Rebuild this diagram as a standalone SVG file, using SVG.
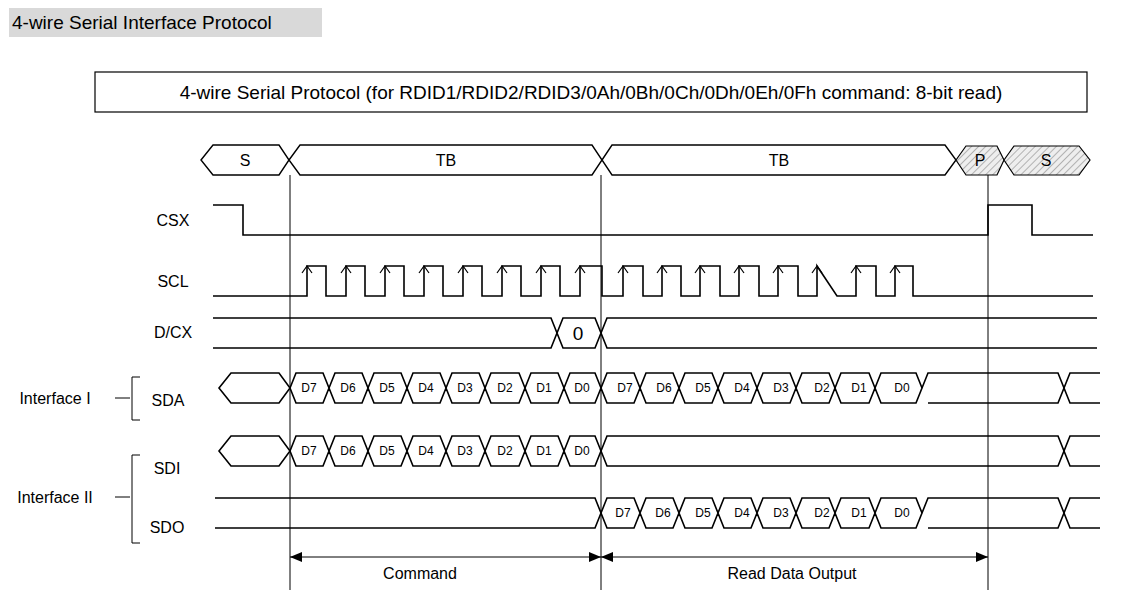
<svg xmlns="http://www.w3.org/2000/svg" width="1139" height="608" viewBox="0 0 1139 608">
<style>
text{font-family:"Liberation Sans",Arial,sans-serif;fill:#000}
.w{fill:none;stroke:#000;stroke-width:1.6}
.t{fill:none;stroke:#000;stroke-width:1}
.h{fill:#fff;stroke:#000;stroke-width:1.4}
.lab{font-size:16px;text-anchor:middle}
.d{font-size:12px;text-anchor:middle}
</style>
<defs>
<pattern id="hatch" width="5" height="5" patternUnits="userSpaceOnUse" patternTransform="rotate(45)">
<rect width="5" height="5" fill="#eee"/><line x1="0" y1="0" x2="0" y2="5" stroke="#777" stroke-width="1"/>
</pattern>
<marker id="ah" markerWidth="12" markerHeight="10" refX="12" refY="5" orient="auto-start-reverse" markerUnits="userSpaceOnUse"><path d="M0,0 L12,5 L0,10 z" fill="#000"/></marker>
<marker id="up" markerWidth="10" markerHeight="8" refX="5" refY="0" orient="0" markerUnits="userSpaceOnUse"><path d="M0,7 L5,0 L10,7" fill="none" stroke="#000" stroke-width="1.2"/></marker>
</defs>
<rect width="1139" height="608" fill="#fff"/>
<rect x="9" y="8" width="313" height="29" fill="#d9d9d9"/>
<text x="12" y="29" font-size="19">4-wire Serial Interface Protocol</text>
<g id="header"><rect x="95" y="72" width="992" height="40" fill="#fff" stroke="#000" stroke-width="1.2"/>
<text x="591" y="99" font-size="19" text-anchor="middle">4-wire Serial Protocol (for RDID1/RDID2/RDID3/0Ah/0Bh/0Ch/0Dh/0Eh/0Fh command: 8-bit read)</text></g>
<g id="phases">
<polygon class="h" points="201,160 213,145 279,145 289,160 279,175 213,175"/><text class="lab" x="245" y="166">S</text>
<polygon class="h" points="289,160 300,145 592,145 602,160 592,175 300,175"/><text class="lab" x="446" y="166">TB</text>
<polygon class="h" points="602,160 612,145 945,145 956,160 945,175 612,175"/><text class="lab" x="779" y="166">TB</text>
<polygon points="956,160 966,146 997,146 1004,160 997,175 966,175" fill="url(#hatch)" stroke="#000" stroke-width="1.2"/><text class="lab" x="980" y="166">P</text>
<polygon points="1004,160 1014,146 1079,146 1090,160 1079,175 1014,175" fill="url(#hatch)" stroke="#000" stroke-width="1.2"/><text class="lab" x="1046" y="166">S</text>
</g>
<g id="markers" class="t"><line x1="290" y1="175" x2="290" y2="590"/><line x1="601" y1="175" x2="601" y2="590"/><line x1="988" y1="175" x2="988" y2="590"/></g>
<g id="labels" class="lab">
<text x="173" y="226">CSX</text><text x="173" y="287">SCL</text><text x="173" y="338">D/CX</text>
<text x="168" y="406">SDA</text><text x="167" y="474">SDI</text><text x="167" y="533">SDO</text>
<text x="55" y="404">Interface I</text><text x="55" y="503">Interface II</text>
</g>
<g id="brackets" class="t">
<line x1="115" y1="398" x2="130" y2="398"/><polyline points="140,377 132,377 132,420 140,420"/>
<line x1="115" y1="497" x2="130" y2="497"/><polyline points="140,455 132,455 132,543 140,543"/>
</g>
<g id="csx"><polyline class="w" points="213,205 243,205 243,235 988,235 988,205 1032,205 1032,235 1093,235"/></g>
<g id="scl">
<polyline class="w" points="213,296 307,296 307,266 326,266 326,296 346,296 346,266 365,266 365,296 385,296 385,266 404,266 404,296 424,296 424,266 443,266 443,296 463,296 463,266 482,266 482,296 502,296 502,266 521,266 521,296 541,296 541,266 560,266 560,296 580,296 580,266 602,266 602,296 623,296 623,266 643,266 643,296 662,296 662,266 681,266 681,296 700,296 700,266 720,266 720,296 739,296 739,266 759,266 759,296 778,296 778,266 798,266 798,296 817,296 817,266 837,296 837,296 856,296 856,266 876,266 876,296 895,296 895,266 913,266 913,296 1093,296"/>
<g fill="none" stroke="#000" stroke-width="1.2">
<path d="M302,273 L307,266 L312,273 M341,273 L346,266 L351,273 M380,273 L385,266 L390,273 M419,273 L424,266 L429,273 M458,273 L463,266 L468,273 M497,273 L502,266 L507,273 M536,273 L541,266 L546,273 M575,273 L580,266 L585,273 M618,273 L623,266 L628,273 M657,273 L662,266 L667,273 M695,273 L700,266 L705,273 M734,273 L739,266 L744,273 M773,273 L778,266 L783,273 M812,273 L817,266 L822,273 M851,273 L856,266 L861,273 M890,273 L895,266 L900,273"/></g>
</g>
<g id="dcx" class="w">
<polyline points="213,318 551,318 557,333 551,348 213,348"/>
<polyline points="1097,318 607,318 601,333 607,348 1097,348"/>
<polygon points="557,333 563,318 595,318 601,333 595,348 563,348" fill="#fff"/>
<text x="578" y="340" font-size="19" text-anchor="middle" stroke="none">0</text>
</g>
<g id="sda" class="w">
<polygon points="219,388 231,373 279,373 290,388 279,403 231,403" fill="#fff"/>
<path d="M290,388 l6,-15 h27 l6,15 l-6,15 h-27 z M329,388 l6,-15 h27 l6,15 l-6,15 h-27 z M368,388 l6,-15 h27 l6,15 l-6,15 h-27 z M407,388 l6,-15 h27 l6,15 l-6,15 h-27 z M446,388 l6,-15 h27 l6,15 l-6,15 h-27 z M485,388 l6,-15 h28 l6,15 l-6,15 h-28 z M525,388 l6,-15 h27 l6,15 l-6,15 h-27 z M564,388 l6,-15 h25 l6,15 l-6,15 h-25 z M601,388 l6,-15 h27 l6,15 l-6,15 h-27 z M640,388 l6,-15 h27 l6,15 l-6,15 h-27 z M679,388 l6,-15 h27 l6,15 l-6,15 h-27 z M718,388 l6,-15 h27 l6,15 l-6,15 h-27 z M757,388 l6,-15 h27 l6,15 l-6,15 h-27 z M796,388 l6,-15 h27 l6,15 l-6,15 h-27 z M835,388 l6,-15 h28 l6,15 l-6,15 h-28 z M875,388 l6,-15 h35 l6,15 l-6,15 h-35 z"/>
<polyline points="922,388 928,373 1058,373 1064,388 1058,403 928,403"/>
<polyline points="1100,373 1070,373 1064,388 1070,403 1100,403"/>
</g>
<g id="sdi" class="w">
<polygon points="219,451 231,436 279,436 290,451 279,466 231,466" fill="#fff"/>
<path d="M290,451 l6,-15 h27 l6,15 l-6,15 h-27 z M329,451 l6,-15 h27 l6,15 l-6,15 h-27 z M368,451 l6,-15 h27 l6,15 l-6,15 h-27 z M407,451 l6,-15 h27 l6,15 l-6,15 h-27 z M446,451 l6,-15 h27 l6,15 l-6,15 h-27 z M485,451 l6,-15 h28 l6,15 l-6,15 h-28 z M525,451 l6,-15 h27 l6,15 l-6,15 h-27 z M564,451 l6,-15 h25 l6,15 l-6,15 h-25 z"/>
<polyline points="601,451 607,436 1058,436 1064,451 1058,466 607,466 601,451"/>
<polyline points="1100,436 1070,436 1064,451 1070,466 1100,466"/>
</g>
<g id="sdo" class="w">
<polyline points="215,498 595,498 601,513 595,528 215,528"/>
<path d="M601,513 l6,-15 h27 l6,15 l-6,15 h-27 z M640,513 l6,-15 h27 l6,15 l-6,15 h-27 z M679,513 l6,-15 h27 l6,15 l-6,15 h-27 z M718,513 l6,-15 h27 l6,15 l-6,15 h-27 z M757,513 l6,-15 h27 l6,15 l-6,15 h-27 z M796,513 l6,-15 h27 l6,15 l-6,15 h-27 z M835,513 l6,-15 h28 l6,15 l-6,15 h-28 z M875,513 l6,-15 h35 l6,15 l-6,15 h-35 z"/>
<polyline points="922,513 928,498 1058,498 1064,513 1058,528 928,528"/>
<polyline points="1100,498 1070,498 1064,513 1070,528 1100,528"/>
</g>
<g id="bits" class="d">
<text x="309" y="392">D7</text><text x="348" y="392">D6</text><text x="387" y="392">D5</text><text x="426" y="392">D4</text><text x="465" y="392">D3</text><text x="505" y="392">D2</text><text x="544" y="392">D1</text><text x="582" y="392">D0</text>
<text x="625" y="392">D7</text><text x="664" y="392">D6</text><text x="703" y="392">D5</text><text x="742" y="392">D4</text><text x="781" y="392">D3</text><text x="822" y="392">D2</text><text x="859" y="392">D1</text><text x="902" y="392">D0</text>
<text x="309" y="455">D7</text><text x="348" y="455">D6</text><text x="387" y="455">D5</text><text x="426" y="455">D4</text><text x="465" y="455">D3</text><text x="505" y="455">D2</text><text x="544" y="455">D1</text><text x="582" y="455">D0</text>
<text x="623" y="517">D7</text><text x="663" y="517">D6</text><text x="703" y="517">D5</text><text x="742" y="517">D4</text><text x="781" y="517">D3</text><text x="822" y="517">D2</text><text x="859" y="517">D1</text><text x="902" y="517">D0</text>
</g>
<g id="connectors" class="t">
<line x1="290" y1="557" x2="601" y2="557" marker-start="url(#ah)" marker-end="url(#ah)"/>
<line x1="601" y1="557" x2="988" y2="557" marker-start="url(#ah)" marker-end="url(#ah)"/>
</g>
<text class="lab" x="420" y="579">Command</text>
<text class="lab" x="792" y="579">Read Data Output</text>
</svg>
